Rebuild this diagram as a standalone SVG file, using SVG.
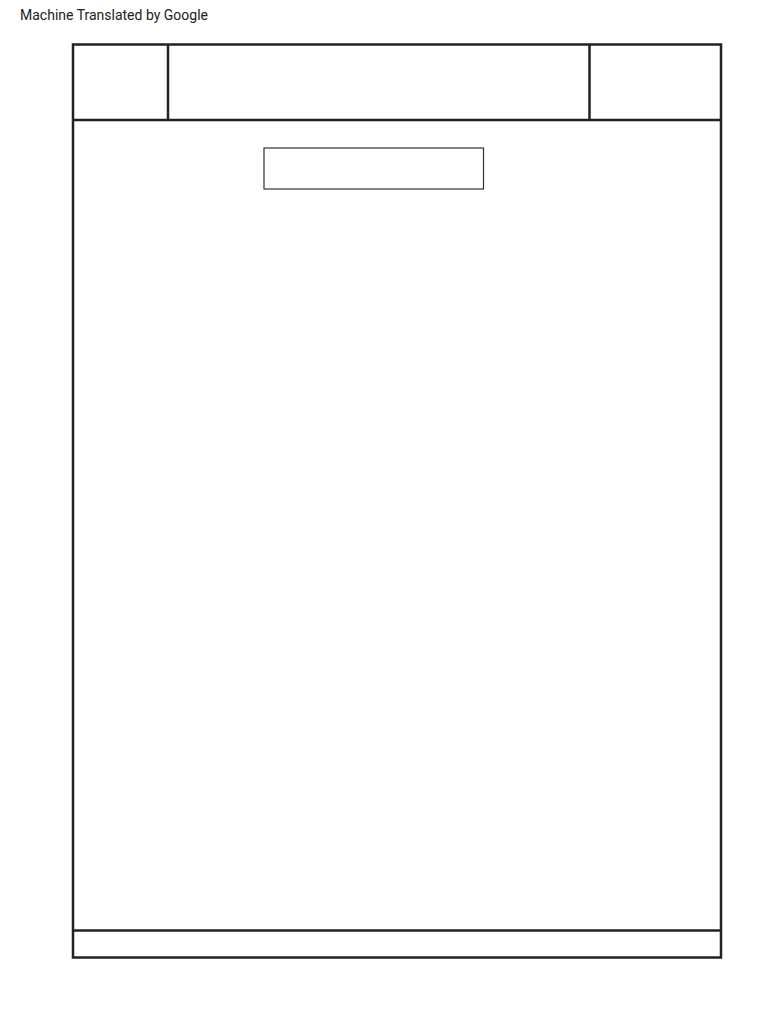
<svg xmlns="http://www.w3.org/2000/svg" width="768" height="1024" viewBox="0 0 768 1024">
<style>
.frame{fill:none;stroke:#222;stroke-width:2.5}
.thin{fill:none;stroke:#333;stroke-width:1.2}
.hdr{font-family:Roboto,"Open Sans",sans-serif;font-size:14px;fill:#222}
</style>
<rect width="768" height="1024" fill="#fff"/>
<text class="hdr" x="20" y="19.5">Machine Translated by Google</text>
<g id="frame">
<rect class="frame" x="73" y="44.5" width="648" height="913"/>
<line class="frame" x1="73" y1="120" x2="721" y2="120"/>
<line class="frame" x1="168" y1="44.5" x2="168" y2="120"/>
<line class="frame" x1="589.5" y1="44.5" x2="589.5" y2="120"/>
<line class="frame" x1="73" y1="930.5" x2="721" y2="930.5"/>
</g>
<g id="title-box">
<rect class="thin" x="264" y="148" width="219.5" height="41"/>
</g>
<g id="connectors"></g>
</svg>
